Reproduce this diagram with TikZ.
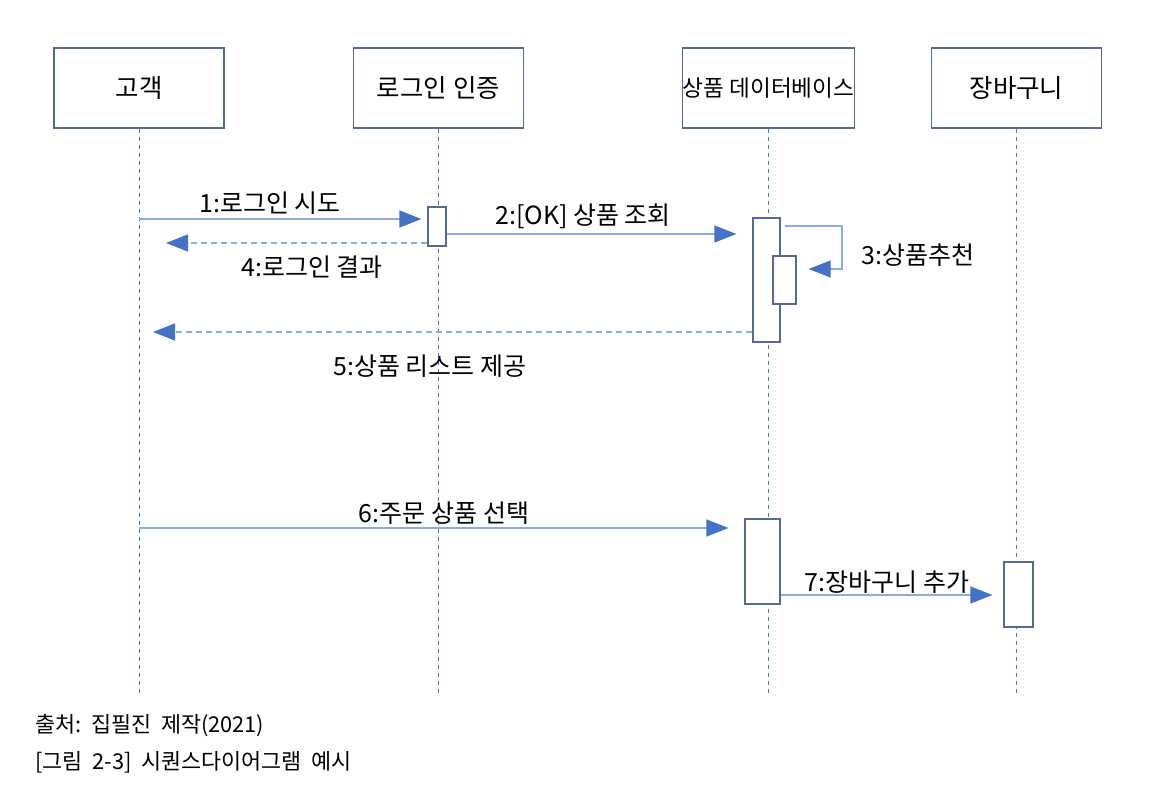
\documentclass[tikz,border=0pt]{standalone}
\usepackage{fontspec}
\setmainfont{Noto Sans CJK KR}
\usetikzlibrary{arrows.meta}
\definecolor{boxc}{RGB}{84,106,146}
\definecolor{lifec}{RGB}{68,114,196}
\definecolor{msgc}{RGB}{143,170,220}
\definecolor{tipc}{RGB}{68,114,196}
\tikzset{
  headbox/.style={draw=boxc, line width=1.3pt, fill=white, minimum width=170pt, minimum height=80pt, inner sep=0pt, font=\fontsize{25.5}{30}\selectfont},
  actbox/.style={draw=boxc, line width=1.3pt, fill=white, inner sep=0pt},
  lifeline/.style={draw=lifec, line width=1pt, dash pattern=on 4pt off 4pt},
  msg/.style={draw=msgc, line width=1.3pt, -{Triangle[length=22pt,width=17pt,fill=tipc,color=tipc]}},
  reply/.style={msg, dash pattern=on 6pt off 4pt},
  lbl/.style={inner sep=0pt, font=\fontsize{25}{30}\selectfont},
  captext/.style={inner sep=0pt, anchor=west, font=\fontsize{21.8}{26}\selectfont}
}
\begin{document}
\begin{tikzpicture}[x=1pt,y=-1pt]
\useasboundingbox (0,0) rectangle (1158,786);
% headers
\node[headbox] (h1) at (139,88) {고객};
\node[headbox] (h2) at (438.5,88) {로그인 인증};
\node[headbox, font=\fontsize{22.6}{27}\selectfont] (h3) at (768.5,88) {상품 데이터베이스};
\node[headbox] (h4) at (1016.5,88) {장바구니};
% lifelines
\coordinate (bot) at (0,693);
\draw[lifeline] (h1.south) -- (h1.south |- bot);
\draw[lifeline] (h2.south) -- (h2.south |- bot);
\draw[lifeline] (h3.south) -- (h3.south |- bot);
\draw[lifeline] (h4.south) -- (h4.south |- bot);
% activation boxes
\node[actbox, minimum width=18pt, minimum height=39pt] (act2) at (437,226.5) {};
\node[actbox, minimum width=27pt, minimum height=124pt] (act3a) at (766.5,280) {};
\node[actbox, minimum width=23pt, minimum height=48pt] (act3b) at (784.5,280) {};
\node[actbox, minimum width=35pt, minimum height=85pt] (act3c) at (762.5,561.5) {};
\node[actbox, minimum width=29pt, minimum height=65pt] (act4) at (1018.5,594.5) {};
% messages
\coordinate (m1) at (139,219);
\draw[msg, shorten >=6pt] (m1) -- (act2.west |- m1);
\coordinate (m4) at (139,243);
\draw[reply, shorten >=27pt] (act2.west |- m4) -- (m4);
\coordinate (m2) at (768,234);
\draw[msg, shorten >=16pt] (act2.east |- m2) -- (act3a.west |- m2);
\coordinate (s1) at (785,226);
\coordinate (s2) at (842,269);
\draw[msg, shorten >=12pt] (s1) -| (s2) -- (act3b.east |- s2);
\coordinate (m5) at (139,332);
\draw[reply, shorten >=14pt] (act3a.west |- m5) -- (m5);
\coordinate (m6) at (139,528);
\draw[msg, shorten >=16pt] (m6) -- (act3c.west |- m6);
\coordinate (m7) at (1016,595);
\draw[msg, shorten >=11pt] (act3c.east |- m7) -- (act4.west |- m7);
% labels
\node[lbl] (l1) at (270,203) {1:로그인 시도};
\node[lbl] (l4) at (312,267) {4:로그인 결과};
\node[lbl] (l2) at (583,216) {2:[OK] 상품 조회};
\node[lbl] (l3) at (918,255) {3:상품추천};
\node[lbl] (l5) at (430,366) {5:상품 리스트 제공};
\node[lbl] (l6) at (444,513) {6:주문 상품 선택};
\node[lbl] (l7) at (887,582) {7:장바구니 추가};
% caption
\node[captext] (c1) at (35,726) {출처:\ \ 집필진\ \ 제작(2021)};
\node[captext] (c2) at (35,762) {[그림\ \ 2-3]\ \ 시퀀스다이어그램\ \ 예시};
\end{tikzpicture}
\end{document}
